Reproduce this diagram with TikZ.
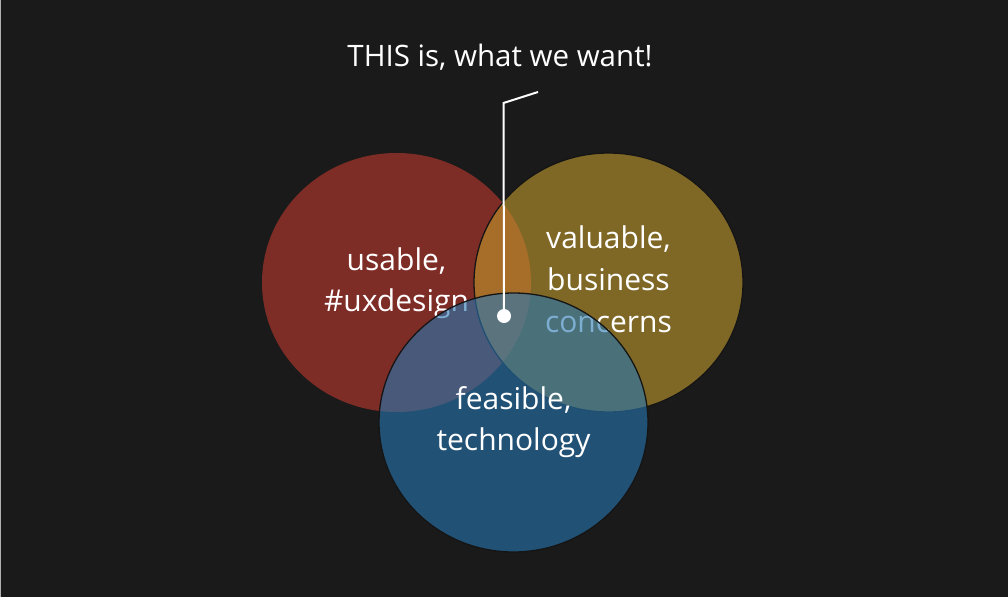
\documentclass[tikz,border=0pt]{standalone}
\usepackage{fontspec}
\setmainfont{Open Sans}
\definecolor{bg}{HTML}{1A1A1A}
\definecolor{edge}{HTML}{151515}
\definecolor{cred}{HTML}{C1382E}
\definecolor{cyel}{HTML}{C39B2E}
\definecolor{cblu}{HTML}{2777B3}
\tikzset{
  x=1pt,y=-1pt,
  venn/.style={ellipse, minimum width=269pt, minimum height=259pt, inner sep=0pt},
  lbl/.style={text=white, align=center, font=\fontsize{30}{41}\selectfont},
}
\usetikzlibrary{shapes.geometric}
\begin{document}
\begin{tikzpicture}
\fill[bg] (0,0) rectangle (1008,597);
\useasboundingbox (0,0) rectangle (1008,597);
\draw[gray!60, line width=1pt] (0.5,0) -- (0.5,597);
% red circle
\node[venn, fill=cred, fill opacity=0.6] (usable) at (396.5,282.5) {};
% yellow circle
\node[venn, fill=cyel, fill opacity=0.6, draw=edge, line width=1.3pt] (valuable) at (608.5,282.5) {};
% texts under blue circle
\node[lbl, anchor=base] (t1) at (396.5,270) {usable,};
\node[lbl, anchor=base] (t2) at (396.5,311) {\#uxdesign};
\node[lbl, anchor=base] (t3) at (608.5,248) {valuable,};
\node[lbl, anchor=base] (t4) at (608.5,290) {business};
\node[lbl, anchor=base] (t5) at (608.5,332) {concerns};
% blue circle
\node[venn, fill=cblu, fill opacity=0.6, draw=edge, line width=1.3pt] (feasible) at (513.5,422.5) {};
\node[lbl, anchor=base] (t6) at (513.5,409) {feasible,};
\node[lbl, anchor=base] (t7) at (513.5,450) {technology};
% title and leader
\node[text=white, anchor=base, font=\fontsize{29.5}{34}\selectfont] (title) at (500,66) {THIS is, what we want!};
\coordinate (bend) at (503.5,103);
\coordinate (tip) at (538,92);
\node[circle, fill=white, minimum size=14pt, inner sep=0pt] (dot) at (504,316) {};
\draw[white, line width=2pt] (dot.center) -- (bend) -- (tip);
\end{tikzpicture}
\end{document}
